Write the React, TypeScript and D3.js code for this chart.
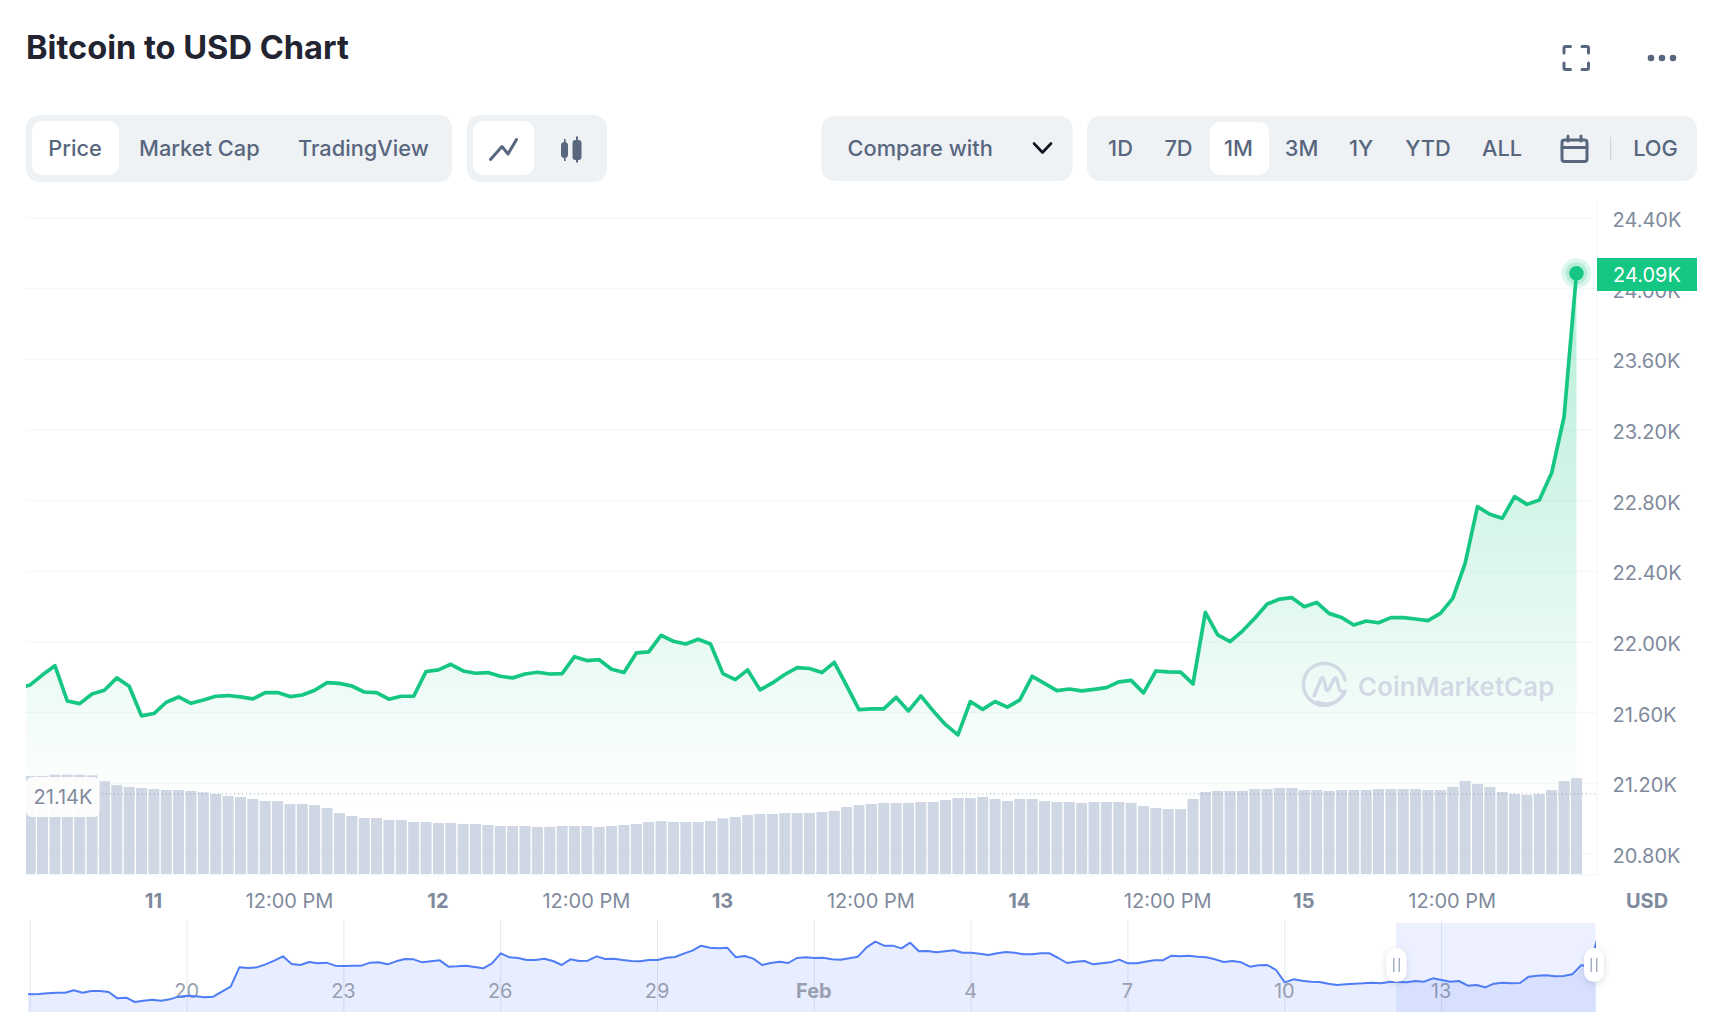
import React from "react";
import * as d3 from "d3";

// Hourly-ish BTC prices of the zoomed window (USD); the first sample sits just left of the plot and is clipped
const prices = [
  21738, 21757, 21814, 21866, 21666, 21651, 21706, 21727, 21797, 21750, 21582, 21595, 21659, 21689, 21653, 21672,
  21693, 21697, 21689, 21678, 21714, 21714, 21691, 21700, 21727, 21770, 21766, 21751, 21717, 21714, 21676, 21693,
  21693, 21833, 21842, 21874, 21836, 21823, 21827, 21806, 21797, 21819, 21829, 21819, 21821, 21917, 21895, 21900,
  21846, 21827, 21938, 21944, 22038, 22004, 21989, 22016, 21989, 21821, 21787, 21842, 21729, 21768, 21816, 21855,
  21850, 21827, 21885, 21753, 21617, 21621, 21621, 21687, 21610, 21695, 21610, 21532, 21474, 21663, 21619, 21663,
  21631, 21672, 21806, 21766, 21725, 21734, 21723, 21732, 21742, 21774, 21783, 21712, 21836, 21831, 21829, 21763,
  22168, 22040, 22002, 22062, 22134, 22215, 22243, 22251, 22200, 22224, 22162, 22139, 22096, 22119, 22109, 22138,
  22138, 22130, 22121, 22162, 22247, 22445, 22766, 22723, 22700, 22823, 22779, 22804, 22958, 23275, 24087,
];

// Volume bars, relative units (0-100 scale), one per price sample after the first
const volumes = [
  98, 98, 99.3, 99.3, 99.3, 98.7, 92.7, 89, 87, 86, 85, 84, 84, 83, 81.7, 80, 78, 77, 75, 73, 73, 70, 70, 69, 66, 61,
  58, 56, 56, 54, 54, 52, 52, 51, 51, 50, 50, 49, 48, 48, 48, 47, 47, 48, 48, 48, 47, 48, 49, 50, 52, 53, 52, 52, 52,
  53, 55.7, 57, 59, 60, 60, 61, 61, 61, 62, 63, 67, 69, 70, 71, 71, 71, 72, 72, 74, 76, 76, 77, 75, 73, 75, 75, 73,
  72, 72, 71, 72, 72, 72, 71, 68, 66, 65, 65, 75, 82, 83, 83, 83, 85, 85, 86, 86, 84, 84, 83, 84, 84, 84, 85, 85, 85,
  85, 84, 84, 87, 93, 90, 87, 82, 80, 79, 80, 84, 93, 96,
];

// Navigator series: one sample per 4 hours from 17 Jan; first and last are clipped by the navigator bounds
const overviewPrices = [
  21020, 20960, 20980, 21020, 21060, 21060, 21200, 21060, 21160, 21160, 21100, 20720, 20760, 20500, 20580, 20640,
  20580, 20660, 20820, 20880, 20840, 20780, 20820, 21120, 21420, 22580, 22540, 22580, 22760, 22980, 23240, 22780,
  22720, 22900, 22820, 22860, 22680, 22660, 22680, 22680, 22860, 22880, 22760, 22940, 23080, 23060, 22880, 22940,
  23000, 22620, 22640, 22680, 22600, 22520, 22820, 23420, 23180, 23140, 23020, 23020, 23100, 22960, 22720, 23060,
  22960, 22980, 23240, 23080, 23100, 23020, 22960, 22940, 23020, 23020, 23160, 23200, 23400, 23580, 23880, 23760,
  23720, 23760, 23180, 23260, 23100, 22720, 22840, 22920, 22840, 23140, 23180, 23140, 23160, 23060, 23040, 23120,
  23220, 23780, 24120, 23880, 23880, 23720, 24060, 23540, 23560, 23480, 23540, 23600, 23460, 23460, 23400, 23320,
  23420, 23500, 23460, 23360, 23360, 23420, 23420, 23140, 22840, 22920, 22960, 22760, 22820, 22880, 23040, 22820,
  22820, 22920, 23000, 23000, 23280, 23240, 23280, 23220, 23180, 23060, 22900, 22960, 22880, 22620, 22700, 22720,
  22420, 21680, 21860, 21780, 21720, 21700, 21600, 21520, 21560, 21600, 21620, 21660, 21620, 21700, 21700, 21680,
  21760, 21720, 21920, 21820, 21720, 21760, 21480, 21520, 21380, 21600, 21660, 21620, 21640, 22020, 22080, 22100,
  22040, 22060, 22160, 22700, 22680, 24520,
];

const priceTicks = [24400, 24000, 23600, 23200, 22800, 22400, 22000, 21600, 21200, 20800];
const timeTicks = [
  { at: 11, label: "11", bold: true },
  { at: 22, label: "12:00 PM", bold: false },
  { at: 34, label: "12", bold: true },
  { at: 46, label: "12:00 PM", bold: false },
  { at: 57, label: "13", bold: true },
  { at: 69, label: "12:00 PM", bold: false },
  { at: 81, label: "14", bold: true },
  { at: 93, label: "12:00 PM", bold: false },
  { at: 104, label: "15", bold: true },
  { at: 116, label: "12:00 PM", bold: false },
];
const overviewTicks = [
  { day: 3, label: "20", bold: false },
  { day: 6, label: "23", bold: false },
  { day: 9, label: "26", bold: false },
  { day: 12, label: "29", bold: false },
  { day: 15, label: "Feb", bold: true },
  { day: 18, label: "4", bold: false },
  { day: 21, label: "7", bold: false },
  { day: 24, label: "10", bold: false },
  { day: 27, label: "13", bold: false },
];
const chartTabs = [
  { label: "Market Cap", x: 139 },
  { label: "TradingView", x: 298 },
];
const ranges = [
  { label: "1D", x: 1120.5 },
  { label: "7D", x: 1178.5 },
  { label: "1M", x: 1238.5 },
  { label: "3M", x: 1301.5 },
  { label: "1Y", x: 1361 },
  { label: "YTD", x: 1428 },
  { label: "ALL", x: 1502 },
  { label: "LOG", x: 1655.5 },
];
const lastPrice = "24.09K";
const basePrice = 21140;
const basePriceLabel = "21.14K";

const FONT = "Inter, 'Noto Sans', sans-serif";
const GREEN = "#16c784";
const SLATE = "#58667e";
const GREY = "#808a9d";
const PANEL = "#eff2f5";
const GRID = "#f3f5f7";

const x = d3.scaleLinear().domain([0, 126]).range([17.83, 1576.45]);
const y = d3.scaleLinear().domain([24400, 20800]).range([218, 854]);
const volH = d3.scaleLinear().domain([0, 100]).range([0, 100]);
const BASE = 874;

const ox = d3.scaleLinear().domain([-1, 180]).range([21.59, 1598.4]);
const oy = d3.scaleLinear().domain([25120, 21520]).range([925, 985]);
const dayX = (d: number) => ox(d * 6);
const OB = 1012;

const line = d3.line<number>().x((_, i) => x(i)).y((d) => y(d));
const area = d3.area<number>().x((_, i) => x(i)).y0(BASE).y1((d) => y(d));
const oLine = d3.line<number>().x((_, i) => ox(i - 1)).y((d) => oy(d));
const oArea = d3.area<number>().x((_, i) => ox(i - 1)).y0(OB).y1((d) => oy(d));

const Btn = ({ x: tx, children, anchor = "start" }: any) => (
  <text x={tx} y={147.5} fontSize={21.8} fontWeight={500} fill={SLATE} textAnchor={anchor} dominantBaseline="central">
    {children}
  </text>
);

const Handle = ({ cx }: { cx: number }) => (
  <g>
    <rect x={cx - 10} y={948} width={20} height={34} rx={10} fill="#fff" filter="url(#hs)" />
    <rect x={cx - 3.5} y={958} width={1.5} height={14} fill="#a6b0c3" />
    <rect x={cx + 2} y={958} width={1.5} height={14} fill="#a6b0c3" />
  </g>
);

export default function App() {
  const lastX = x(prices.length - 1);
  const lastY = y(prices[prices.length - 1]);
  return (
    <svg
      width={1734}
      height={1036}
      viewBox="0 0 1734 1036"
      style={{ position: "absolute", left: 0, top: 0, display: "block", background: "#fff" }}
      fontFamily={FONT}
    >
      <defs>
        <linearGradient id="gfill" gradientUnits="userSpaceOnUse" x1={0} x2={0} y1={273} y2={810}>
          <stop offset="0" stopColor={GREEN} stopOpacity={0.32} />
          <stop offset="1" stopColor={GREEN} stopOpacity={0} />
        </linearGradient>
        <clipPath id="plot">
          <rect x={26} y={200} width={1571} height={675} />
        </clipPath>
        <clipPath id="oplot">
          <rect x={28} y={920} width={1568} height={92} />
        </clipPath>
        <filter id="hs" x="-60%" y="-40%" width="220%" height="180%">
          <feDropShadow dx={0} dy={2} stdDeviation={3} floodColor="#58667e" floodOpacity={0.25} />
        </filter>
      </defs>

      {/* Header */}
      <text x={26} y={46.5} fontSize={32.6} fontWeight={700} fill="#222531" dominantBaseline="central">
        Bitcoin to USD Chart
      </text>
      <g fill="none" stroke={SLATE} strokeWidth={3} strokeLinecap="round">
        <path d="M1564 53v-5a1.5 1.5 0 0 1 1.5-1.5h5" />
        <path d="M1582 46.5h5a1.5 1.5 0 0 1 1.5 1.5v5" />
        <path d="M1564 63v5a1.5 1.5 0 0 0 1.5 1.5h5" />
        <path d="M1582 69.5h5a1.5 1.5 0 0 0 1.5-1.5v-5" />
      </g>
      <g fill={SLATE}>
        <circle cx={1651} cy={58} r={3.3} />
        <circle cx={1662} cy={58} r={3.3} />
        <circle cx={1673} cy={58} r={3.3} />
      </g>

      {/* Toolbar */}
      <rect x={26} y={115} width={426} height={67} rx={13} fill={PANEL} />
      <rect x={32} y={121} width={87} height={54} rx={10} fill="#fff" />
      <Btn x={75} anchor="middle">Price</Btn>
      {chartTabs.map((t) => (
        <Btn key={t.label} x={t.x}>{t.label}</Btn>
      ))}
      <rect x={467} y={115} width={140} height={67} rx={13} fill={PANEL} />
      <rect x={473} y={121} width={61} height={54} rx={10} fill="#fff" />
      <path d="M490.5 159.5L502 146.5L508 154L516.5 139.5" fill="none" stroke={SLATE} strokeWidth={3} strokeLinecap="round" strokeLinejoin="round" />
      <g fill={SLATE}>
        <rect x={561} y={142} width={7} height={16} rx={3.5} />
        <rect x={564} y={139} width={1.6} height={22} />
        <rect x={572.5} y={140} width={9} height={20} rx={3} />
        <rect x={576} y={136.5} width={2} height={26} />
      </g>
      <rect x={821.5} y={116} width={251} height={65} rx={13} fill={PANEL} />
      <Btn x={847.5}>Compare with</Btn>
      <path d="M1034 143.5L1042.5 152.5L1051 143.5" fill="none" stroke="#0d1421" strokeWidth={2.6} strokeLinecap="round" strokeLinejoin="round" />
      <rect x={1087} y={116} width={610} height={65} rx={13} fill={PANEL} />
      <rect x={1210} y={122} width={59} height={53} rx={10} fill="#fff" />
      {ranges.map((r) => (
        <Btn key={r.label} x={r.x} anchor="middle">{r.label}</Btn>
      ))}
      <g fill="none" stroke={SLATE} strokeWidth={3} strokeLinecap="round">
        <rect x={1562} y={140} width={25} height={21.5} rx={2.5} />
        <path d="M1562 147.5h25M1568 136v5M1581 136v5" />
      </g>
      <rect x={1610} y={137} width={1.3} height={23} fill="#cfd6e4" />

      {/* Grid */}
      <line x1={1597} x2={1597} y1={200} y2={875} stroke={GRID} strokeWidth={1} />
      <line x1={26} x2={1597} y1={875} y2={875} stroke={GRID} strokeWidth={1} />
      {priceTicks.map((t) => (
        <line key={t} x1={26} x2={1597} y1={y(t)} y2={y(t)} stroke={GRID} strokeWidth={1} />
      ))}

      {/* Price area */}
      <g clipPath="url(#plot)">
        <path d={area(prices) ?? ""} fill="url(#gfill)" />
      </g>

      {/* Watermark */}
      <g transform="translate(2 -1)" fill="none" stroke="#cfd6e4" strokeWidth={3.4} strokeLinecap="round" strokeLinejoin="round" opacity={0.9}>
        <path d="M1342 693a21 21 0 1 1 1-12" />
        <path d="M1342.5 694a21 21 0 0 1-27 9" />
        <path d="M1312 697l7-17q2-3 3 1l2 9q1 3 3 0l5-10q2-3 3 1l2 8q1 5 6 3" />
      </g>
      <text x={1358} y={686} fontSize={26} fontWeight={600} fill="#cfd6e4" dominantBaseline="central" opacity={0.9}>
        CoinMarketCap
      </text>

      {/* Volume */}
      {volumes.map((v, i) => (
        <rect
          key={i}
          x={Math.max(26, x(i + 1) - 5.5)}
          y={BASE - volH(v)}
          width={x(i + 1) + 5.5 - Math.max(26, x(i + 1) - 5.5)}
          height={volH(v)}
          fill="#cfd6e4"
        />
      ))}

      {/* Price line */}
      <g clipPath="url(#plot)">
        <path d={line(prices) ?? ""} fill="none" stroke={GREEN} strokeWidth={3.7} strokeLinejoin="round" />
      </g>

      {/* Base price */}
      <line x1={26} x2={1597} y1={y(basePrice)} y2={y(basePrice)} stroke={GREY} strokeOpacity={0.75} strokeWidth={1} strokeDasharray="1 3" />
      <rect x={26} y={777} width={73.5} height={40} rx={6} fill="#fff" fillOpacity={0.93} />
      <text x={63} y={797} fontSize={20} fill={GREY} textAnchor="middle" dominantBaseline="central">
        {basePriceLabel}
      </text>

      {/* Y axis */}
      {priceTicks.map((t) => (
        <text key={t} x={1612.5} y={y(t) + 2} fontSize={20} fill={GREY} dominantBaseline="central">
          {(t / 1000).toFixed(2)}K
        </text>
      ))}
      <rect x={1597} y={258} width={100} height={33} fill={GREEN} />
      <text x={1647} y={274.5} fontSize={20} fill="#fff" textAnchor="middle" dominantBaseline="central">
        {lastPrice}
      </text>
      <circle cx={lastX} cy={lastY} r={15} fill={GREEN} fillOpacity={0.14} />
      <circle cx={lastX} cy={lastY} r={11} fill={GREEN} fillOpacity={0.2} />
      <circle cx={lastX} cy={lastY} r={7.3} fill={GREEN} />

      {/* X axis */}
      {timeTicks.map((t) => (
        <g key={t.at}>
          <line x1={x(t.at)} x2={x(t.at)} y1={875} y2={880} stroke={GRID} />
          <text
            x={x(t.at) - 0.5}
            y={901}
            fontSize={20}
            fontWeight={t.bold ? 700 : 400}
            fill={GREY}
            textAnchor="middle"
            dominantBaseline="central"
          >
            {t.label}
          </text>
        </g>
      ))}
      <text x={1647} y={901} fontSize={20} fontWeight={700} fill={GREY} textAnchor="middle" dominantBaseline="central">
        USD
      </text>

      {/* Navigator */}
      <line x1={dayX(0)} x2={dayX(0)} y1={920} y2={OB} stroke="#e6e9ef" />
      {overviewTicks.map((t) => (
        <line key={t.day} x1={dayX(t.day)} x2={dayX(t.day)} y1={920} y2={OB} stroke="#e6e9ef" />
      ))}
      <g clipPath="url(#oplot)">
        <path d={oArea(overviewPrices) ?? ""} fill="#3861fb" fillOpacity={0.115} />
      </g>
      {overviewTicks.map((t) => (
        <text
          key={t.label}
          x={dayX(t.day) - 0.5}
          y={990.5}
          fontSize={20}
          fontWeight={t.bold ? 700 : 400}
          fill="#979fb0"
          textAnchor="middle"
          dominantBaseline="central"
        >
          {t.label}
        </text>
      ))}
      <rect x={1396} y={923} width={199.5} height={89} fill="#3861fb" fillOpacity={0.09} />
      <g clipPath="url(#oplot)">
        <path d={oLine(overviewPrices) ?? ""} fill="none" stroke="#4f7cf7" strokeWidth={2} strokeLinejoin="round" />
      </g>
      <Handle cx={1396.5} />
      <Handle cx={1594} />
    </svg>
  );
}
